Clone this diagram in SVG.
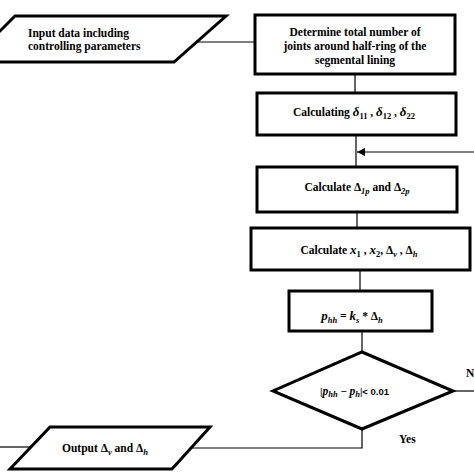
<svg xmlns="http://www.w3.org/2000/svg" width="474" height="474" viewBox="0 0 474 474">
<defs>
<style>
.n{fill:#fff;stroke:#000;stroke-width:3;stroke-linejoin:miter}
.c{fill:none;stroke:#000;stroke-width:1.2}
.t{font-family:"Liberation Serif","Times New Roman",serif;font-weight:bold;font-size:11.5px;fill:#000}
.m{font-style:italic;font-size:13px}
.s{font-size:8.5px}
.sans{font-family:"Liberation Sans",Arial,sans-serif;font-weight:bold;font-size:9.5px}
</style>
<marker id="ah" viewBox="0 0 10 10" refX="10" refY="5" markerWidth="8" markerHeight="8" markerUnits="userSpaceOnUse" orient="auto">
<path d="M0,0 L10,5 L0,10 z" fill="#000"/>
</marker>
</defs>
<rect width="474" height="474" fill="#fff"/>
<g id="connectors">
<line class="c" x1="196" y1="42" x2="255" y2="42"/>
<line class="c" x1="355" y1="74" x2="355" y2="93"/>
<line class="c" x1="356" y1="135" x2="356" y2="167"/>
<line class="c" x1="474" y1="152" x2="357" y2="152" marker-end="url(#ah)"/>
<line class="c" x1="357" y1="212" x2="357" y2="228"/>
<line class="c" x1="360" y1="270" x2="360" y2="291"/>
<line class="c" x1="362" y1="331" x2="362" y2="352"/>
<line class="c" x1="453" y1="391" x2="474" y2="391"/>
<polyline class="c" points="362,429 362,448 191,448"/>
<line class="c" x1="0" y1="447" x2="30" y2="447"/>
</g>
<g id="input">
<polygon class="n" points="15,16 226,16 174,62 -31,62"/>
<text class="t" x="28" y="37">Input data including</text>
<text class="t" x="28" y="50">controlling parameters</text>
</g>
<g id="determine">
<rect class="n" x="255" y="15" width="200" height="59"/>
<text class="t" x="355" y="36" text-anchor="middle">Determine total number of</text>
<text class="t" x="355" y="50" text-anchor="middle">joints around half-ring of the</text>
<text class="t" x="355" y="64" text-anchor="middle">segmental lining</text>
</g>
<g id="calc-delta">
<rect class="n" x="257" y="93" width="199" height="42"/>
<text class="t" x="354" y="116" text-anchor="middle">Calculating <tspan class="m">δ</tspan><tspan class="s" dy="3">11</tspan><tspan dy="-3"> , </tspan><tspan class="m">δ</tspan><tspan class="s" dy="3">12</tspan><tspan dy="-3"> , </tspan><tspan class="m">δ</tspan><tspan class="s" dy="3">22</tspan></text>
</g>
<g id="calc-Dp">
<rect class="n" x="257" y="167" width="200" height="45"/>
<text class="t" x="357" y="191" text-anchor="middle">Calculate Δ<tspan class="s m" dy="3">1p</tspan><tspan dy="-3"> and Δ</tspan><tspan class="s m" dy="3">2p</tspan></text>
</g>
<g id="calc-x">
<rect class="n" x="251" y="228" width="219" height="42"/>
<text class="t" x="359" y="254" text-anchor="middle">Calculate <tspan class="m">x</tspan><tspan class="s" dy="3">1</tspan><tspan dy="-3"> , </tspan><tspan class="m">x</tspan><tspan class="s" dy="3">2</tspan><tspan dy="-3">, Δ</tspan><tspan class="s m" dy="3">v</tspan><tspan dy="-3"> , Δ</tspan><tspan class="s m" dy="3">h</tspan></text>
</g>
<g id="phh">
<rect class="n" x="289" y="291" width="143" height="40"/>
<text class="t" x="352" y="320" text-anchor="middle"><tspan class="m">p</tspan><tspan class="s m" dy="3">hh</tspan><tspan dy="-3"> = </tspan><tspan class="m">k</tspan><tspan class="s m" dy="3">s</tspan><tspan dy="-3">  *   Δ</tspan><tspan class="s m" dy="3">h</tspan></text>
</g>
<g id="check">
<polygon class="n" points="362,352 453,391 362,429 273,391"/>
<text class="t" x="320" y="395" style="font-size:11px">|<tspan class="m" style="font-size:11.5px">p</tspan><tspan class="s m" dy="2">hh</tspan><tspan dy="-2">  −  </tspan><tspan class="m" style="font-size:11.5px">p</tspan><tspan class="s m" dy="2">h</tspan><tspan dy="-2">|</tspan><tspan class="sans">&lt; 0.01</tspan></text>
<text class="t" x="466" y="377">N</text>
<text class="t" x="399" y="443">Yes</text>
</g>
<g id="output">
<polygon class="n" points="50,427 210,427 172,469 10,469"/>
<text class="t" x="105" y="452" text-anchor="middle">Output Δ<tspan class="s m" dy="3">v</tspan><tspan dy="-3"> and Δ</tspan><tspan class="s m" dy="3">h</tspan></text>
</g>
</svg>
